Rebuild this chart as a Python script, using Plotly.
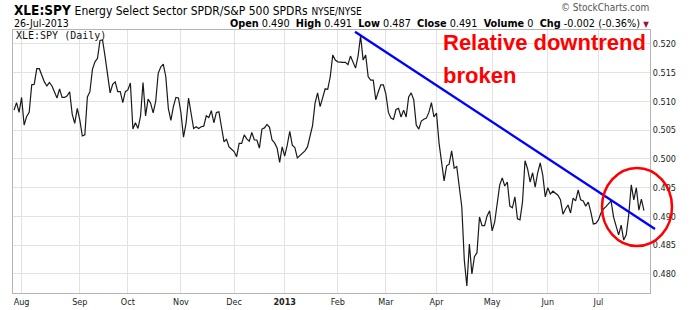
import pandas as pd
import plotly.graph_objects as go

# ---------------- data ----------------
holidays = ["2012-09-03", "2012-10-29", "2012-10-30", "2012-11-22", "2012-12-25",
            "2013-01-01", "2013-01-21", "2013-02-18", "2013-03-29", "2013-05-27",
            "2013-07-04"]

ratio = [
    0.5085, 0.5098, 0.5081, 0.5107, 0.5059, 0.5074, 0.5081, 0.5129, 0.5130, 0.5157,
    0.5157, 0.5146, 0.5134, 0.5127, 0.5133, 0.5127, 0.5117, 0.5106, 0.5122, 0.5107,
    0.5107, 0.5110, 0.5117, 0.5078, 0.5062, 0.5088, 0.5068, 0.5040, 0.5042, 0.5108,
    0.5117, 0.5156, 0.5169, 0.5175, 0.5206, 0.5207, 0.5178, 0.5149, 0.5115, 0.5130,
    0.5134, 0.5117, 0.5117, 0.5098, 0.5117, 0.5120, 0.5132, 0.5052, 0.5063, 0.5053,
    0.5074, 0.5133, 0.5075, 0.5104, 0.5097, 0.5080, 0.5100, 0.5149, 0.5160, 0.5165,
    0.5143, 0.5088, 0.5067, 0.5091, 0.5107, 0.5106, 0.5080, 0.5038, 0.5062, 0.5106,
    0.5082, 0.5053, 0.5056, 0.5053, 0.5056, 0.5057, 0.5075, 0.5072, 0.5084, 0.5063,
    0.5081, 0.5082, 0.5056, 0.5030, 0.5034, 0.5021, 0.5017, 0.5013, 0.5004, 0.5027,
    0.5027, 0.5042, 0.5035, 0.5031, 0.5046, 0.5033, 0.5033, 0.5019, 0.5052, 0.5054,
    0.5060, 0.5055, 0.5033, 0.5028, 0.5019, 0.4994, 0.5021, 0.5005, 0.5024, 0.5048,
    0.5024, 0.5020, 0.5002, 0.5006, 0.5010, 0.5014, 0.5021, 0.5039, 0.5058, 0.5097,
    0.5115, 0.5091, 0.5106, 0.5122, 0.5121, 0.5143, 0.5181, 0.5172, 0.5169, 0.5168,
    0.5168, 0.5168, 0.5164, 0.5179, 0.5169, 0.5158, 0.5179, 0.5214, 0.5172, 0.5181,
    0.5143, 0.5137, 0.5137, 0.5103, 0.5117, 0.5129, 0.5129, 0.5113, 0.5081, 0.5071,
    0.5069, 0.5086, 0.5088, 0.5073, 0.5085, 0.5073, 0.5108, 0.5115, 0.5103, 0.5059,
    0.5052, 0.5066, 0.5069, 0.5071, 0.5081, 0.5098, 0.5073, 0.5080, 0.5028, 0.4990,
    0.4962, 0.4988, 0.4991, 0.5014, 0.4984, 0.4987, 0.4952, 0.4917, 0.4824, 0.4779,
    0.4852, 0.4800, 0.4830, 0.4837, 0.4899, 0.4884, 0.4884, 0.4901, 0.4910, 0.4875,
    0.4890, 0.4920, 0.4955, 0.4967, 0.4953, 0.4960, 0.4918, 0.4915, 0.4934, 0.4896,
    0.4894, 0.4925, 0.4997, 0.4983, 0.4960, 0.4976, 0.4951, 0.4976, 0.4993, 0.4972,
    0.4934, 0.4950, 0.4939, 0.4944, 0.4941, 0.4937, 0.4929, 0.4904, 0.4913, 0.4920,
    0.4906, 0.4932, 0.4927, 0.4946, 0.4929, 0.4927, 0.4918, 0.4925, 0.4908, 0.4887,
    0.4888, 0.4894, 0.4906, 0.4913, 0.4917, 0.4922, 0.4927, 0.4899, 0.4884, 0.4868,
    0.4885, 0.4859, 0.4868, 0.4903, 0.4955, 0.4929, 0.4950, 0.4911, 0.4930, 0.4910,
]

month_labels = ["Aug", "Sep", "Oct", "Nov", "Dec", "<b>2013</b>",
                "Feb", "Mar", "Apr", "May", "Jun", "Jul"]
y_ticks = [0.480, 0.485, 0.490, 0.495, 0.500, 0.505, 0.510, 0.515, 0.520]

# ---------------- build ----------------
dates = pd.bdate_range("2012-07-27", "2013-07-26", freq="C", holidays=holidays)
n = min(len(dates), len(ratio))
dates = dates[:n]
xs = dates.strftime("%Y-%m-%d").tolist()
s = pd.Series(xs, index=dates)
month_firsts = s.groupby([dates.year, dates.month]).first().tolist()[1:]

W, H = 695, 310
L, R, T, B = 13, 45, 30, 17
PW, PH = W - L - R, H - T - B


def px(x):
    return (x - L) / PW


def py(y):
    return (H - B - y) / PH


NARROW = "DejaVu Sans Condensed, Liberation Sans Narrow, Liberation Sans, Arial"

fig = go.Figure()
fig.add_trace(go.Scatter(x=xs, y=ratio[:n], mode="lines",
                         line=dict(color="#1a1a1a", width=1.2),
                         hoverinfo="skip", showlegend=False))

fig.update_layout(
    width=W, height=H,
    margin=dict(l=L, r=R, t=T, b=B),
    paper_bgcolor="white", plot_bgcolor="white",
    showlegend=False,
    xaxis=dict(type="category", range=[-0.4, 251.4], automargin=False,
               tickmode="array", tickvals=month_firsts, ticktext=month_labels,
               showgrid=True, gridcolor="#e2e2e2", gridwidth=1,
               showline=True, linecolor="#b4b4b4", linewidth=1, mirror=True,
               ticks="", zeroline=False,
               tickfont=dict(family=NARROW, size=9, color="#222")),
    yaxis=dict(side="right", range=[0.47669, 0.52243], automargin=False,
               tickmode="array", tickvals=y_ticks,
               ticktext=["%.3f" % v for v in y_ticks],
               showgrid=True, gridcolor="#e2e2e2", gridwidth=1,
               showline=True, linecolor="#b4b4b4", linewidth=1, mirror=True,
               ticks="", zeroline=False,
               tickfont=dict(family=NARROW, size=9, color="#222")),
)

# trend line and circle
fig.add_shape(type="line", xref="paper", yref="paper",
              x0=px(355), y0=py(31.7), x1=px(655), y1=py(229),
              line=dict(color="#0000ff", width=2.3))
fig.add_shape(type="circle", xref="paper", yref="paper",
              x0=px(602), x1=px(672), y0=py(246), y1=py(168),
              line=dict(color="#ff0000", width=2.5))

ann = []
ann.append(dict(x=px(441), y=py(43), xref="paper", yref="paper",
                xanchor="left", yanchor="middle", showarrow=False,
                text="<b>Relative downtrend</b>",
                font=dict(family="Liberation Sans, Arial", size=22, color="#ff0000")))
ann.append(dict(x=px(441), y=py(75), xref="paper", yref="paper",
                xanchor="left", yanchor="middle", showarrow=False,
                text="<b>broken</b>",
                font=dict(family="Liberation Sans, Arial", size=22, color="#ff0000")))
# header
ann.append(dict(x=px(12), y=py(10), xref="paper", yref="paper",
                xanchor="left", yanchor="middle", showarrow=False,
                text="<b>XLE:SPY</b> <span style='font-size:12px'>Energy Select Sector SPDR/S&amp;P 500 SPDRs</span>"
                     " <span style='font-size:10px'>NYSE/NYSE</span>",
                font=dict(family=NARROW, size=13.5, color="#000")))
ann.append(dict(x=px(12), y=py(23.5), xref="paper", yref="paper",
                xanchor="left", yanchor="middle", showarrow=False,
                text="26-Jul-2013",
                font=dict(family=NARROW, size=10.5, color="#000")))
ann.append(dict(x=px(651), y=py(23.5), xref="paper", yref="paper",
                xanchor="right", yanchor="middle", showarrow=False,
                text="<b>Open</b> 0.490  <b>High</b> 0.491  <b>Low</b> 0.487  <b>Close</b> 0.491  "
                     "<b>Volume</b> 0  <b>Chg</b> -0.002 (-0.36%) "
                     "<span style='color:#99113a;font-size:8px'>▼</span>",
                font=dict(family=NARROW, size=10.8, color="#000")))
ann.append(dict(x=px(651), y=py(8), xref="paper", yref="paper",
                xanchor="right", yanchor="middle", showarrow=False,
                text="© StockCharts.com",
                font=dict(family=NARROW, size=10, color="#555")))
ann.append(dict(x=px(14), y=py(36), xref="paper", yref="paper",
                xanchor="left", yanchor="middle", showarrow=False,
                text="XLE:SPY (Daily)",
                font=dict(family="DejaVu Sans Mono", size=10, color="#111")))
fig.update_layout(annotations=ann)

fig.write_html("out.html")
